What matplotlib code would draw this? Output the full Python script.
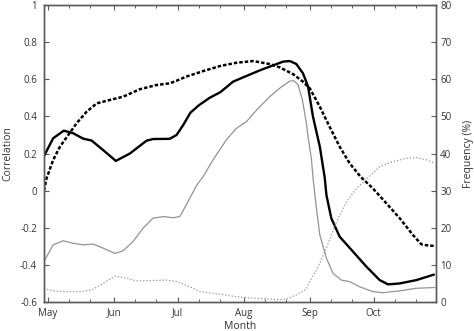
import matplotlib
matplotlib.use("Agg")
import matplotlib.pyplot as plt
from matplotlib.ticker import FixedLocator

plt.rcParams['font.family'] = ['Open Sans', 'DejaVu Sans']

# month axis: days counted from 1 May
months = ["May", "Jun", "Jul", "Aug", "Sep", "Oct"]
month_starts = [0, 31, 61, 92, 123, 153]
tenday_marks = [10, 20, 41, 51, 71, 81, 102, 112, 133, 143, 163, 173]

# correlation, solid black
corr_a_day = [-1.7, 2.6, 7.6, 12, 16.7, 20.6, 26, 32, 38.6, 46.4, 49.5, 57.3,
              60.5, 63.6, 67, 71, 76, 81, 87, 94.8, 100, 104.2, 110.5, 113.6,
              116.7, 119.8, 122.2, 124.5, 127.7, 130, 130.8, 133.1, 137, 143.3,
              149.6, 155.8, 159.7, 165.2, 173, 181.6]
corr_a = [0.186, 0.282, 0.323, 0.309, 0.28, 0.27, 0.219, 0.16, 0.20, 0.269, 0.278, 0.279,
          0.30, 0.353, 0.42, 0.46, 0.50, 0.53, 0.587, 0.625, 0.65, 0.668, 0.695, 0.698,
          0.682, 0.632, 0.56, 0.398, 0.237, 0.07, -0.024, -0.149, -0.248, -0.329,
          -0.41, -0.482, -0.505, -0.50, -0.482, -0.451]

# correlation, dashed black
corr_b_day = [-1.7, -0.5, 2.6, 5.8, 8.9, 13.6, 18.3, 23, 27.7, 35.4, 43.2, 51.1,
              57.3, 60.5, 65, 73, 80.8, 88.6, 96.4, 104.2, 108.9, 115.1, 119.8,
              123, 127.7, 132.3, 137, 141.7, 146.8, 152.6, 158.9, 165.2, 171.4,
              175.3, 179.2, 181.6]
corr_b = [0.0, 0.066, 0.165, 0.237, 0.287, 0.363, 0.425, 0.47, 0.484, 0.506, 0.546, 0.569,
          0.578, 0.592, 0.614, 0.644, 0.671, 0.689, 0.698, 0.682, 0.664, 0.628, 0.587,
          0.551, 0.452, 0.344, 0.237, 0.147, 0.075, 0.012, -0.068, -0.149, -0.239,
          -0.289, -0.297, -0.297]

# frequency (%), solid grey
freq_a_day = [-1.7, 2.6, 7.3, 12, 16.7, 21.4, 26.1, 31.6, 35.4, 40.1, 44.8, 49.5,
              54.2, 58.9, 62, 65, 70, 73, 77.6, 83.9, 88.6, 93.3, 98, 104.2, 108.9,
              113.6, 115.5, 117.5, 119.5, 121.4, 122.2, 123.8, 124.5, 126.1, 127.7,
              130.8, 133.9, 137.8, 141.7, 146.4, 152.6, 157.3, 165.2, 173, 181.6]
freq_a = [10.9, 15.4, 16.5, 15.8, 15.4, 15.6, 14.5, 13.1, 13.8, 16.3, 19.9, 22.6,
          23.0, 22.7, 23.0, 26.1, 31.5, 33.8, 38.3, 43.7, 46.8, 48.6, 51.7, 55.3, 57.6,
          59.5, 59.6, 58.5, 54.5, 48.2, 44.5, 38.3, 33.5, 25.3, 18.1,
          11.8, 7.7, 5.9, 5.5, 4.1, 2.8, 2.5, 3.0, 3.7, 3.9]

# frequency (%), dotted grey
freq_b_day = [-1.7, 2.6, 8.9, 15.1, 20.6, 26, 31.6, 37, 41.7, 49.5, 55.8, 60.5,
              66.7, 71.4, 80.8, 88.6, 98, 107.4, 111.3, 116.7, 121.4, 123, 126.9,
              130.8, 135.5, 140.2, 144.9, 149.6, 155.8, 162, 168.3, 173, 177.7, 181.6]
freq_b = [3.6, 3.0, 2.8, 2.8, 3.2, 5.0, 7.0, 6.4, 5.7, 5.8, 5.9, 5.5,
          4.1, 2.8, 2.1, 1.4, 1.0, 0.7, 0.7, 1.9, 3.5, 5.5, 9.5,
          14.5, 21.6, 27.0, 30.6, 33.0, 36.5, 37.8, 38.7, 38.9, 38.3, 37.4]

corr_ticks = [-0.6, -0.4, -0.2, 0, 0.2, 0.4, 0.6, 0.8, 1]
corr_labels = ["-0.6", "-0.4", "-0.2", "0", "0.2", "0.4", "0.6", "0.8", "1"]
freq_ticks = [0, 10, 20, 30, 40, 50, 60, 70, 80]

spine_col = "#5a5a5a"
text_col = "#333333"

fig = plt.figure(figsize=(4.74, 3.31), dpi=100)
ax = fig.add_axes([0.0928, 0.0876, 0.827, 0.8973])
ax2 = ax.twinx()

ax.plot(corr_a_day, corr_a, color="black", lw=1.7, solid_capstyle="butt")
ax.plot(corr_b_day, corr_b, color="black", lw=1.8, linestyle=(0, (1.4, 0.8)))
ax2.plot(freq_a_day, freq_a, color="#939393", lw=0.9)
ax2.plot(freq_b_day, freq_b, color="#939393", lw=0.9, linestyle=(0, (1, 1.6)))

ax.set_xlim(-1.7, 182.2)
ax.set_ylim(-0.6, 1)
ax2.set_ylim(0, 80)

ax.set_xticks(month_starts)
ax.set_xticklabels(months)
ax.xaxis.set_minor_locator(FixedLocator(tenday_marks))
ax.set_yticks(corr_ticks)
ax.set_yticklabels(corr_labels)
ax2.set_yticks(freq_ticks)

for a in (ax, ax2):
    for s in a.spines.values():
        s.set_color(spine_col)
        s.set_linewidth(1.0)

ax.tick_params(axis="x", which="major", direction="in", length=3.5, width=0.8,
               color=spine_col, top=True, labelsize=7, labelcolor=text_col, pad=4)
ax.tick_params(axis="x", which="minor", direction="in", length=2, width=0.7,
               color=spine_col, top=True)
ax.tick_params(axis="y", direction="in", length=3.5, width=0.8, color=spine_col,
               labelsize=7, labelcolor=text_col, pad=5)
ax2.tick_params(axis="y", direction="in", length=3.5, width=0.8, color=spine_col,
                labelsize=7, labelcolor=text_col, pad=3)

ax.set_xlabel("Month", fontsize=7.5, color=text_col, labelpad=2)
ax.set_ylabel("Correlation", fontsize=7.5, color=text_col, labelpad=5)
ax2.set_ylabel("Frequency (%)", fontsize=7.5, color=text_col, labelpad=8)

fig.savefig("out.png", dpi=100)
